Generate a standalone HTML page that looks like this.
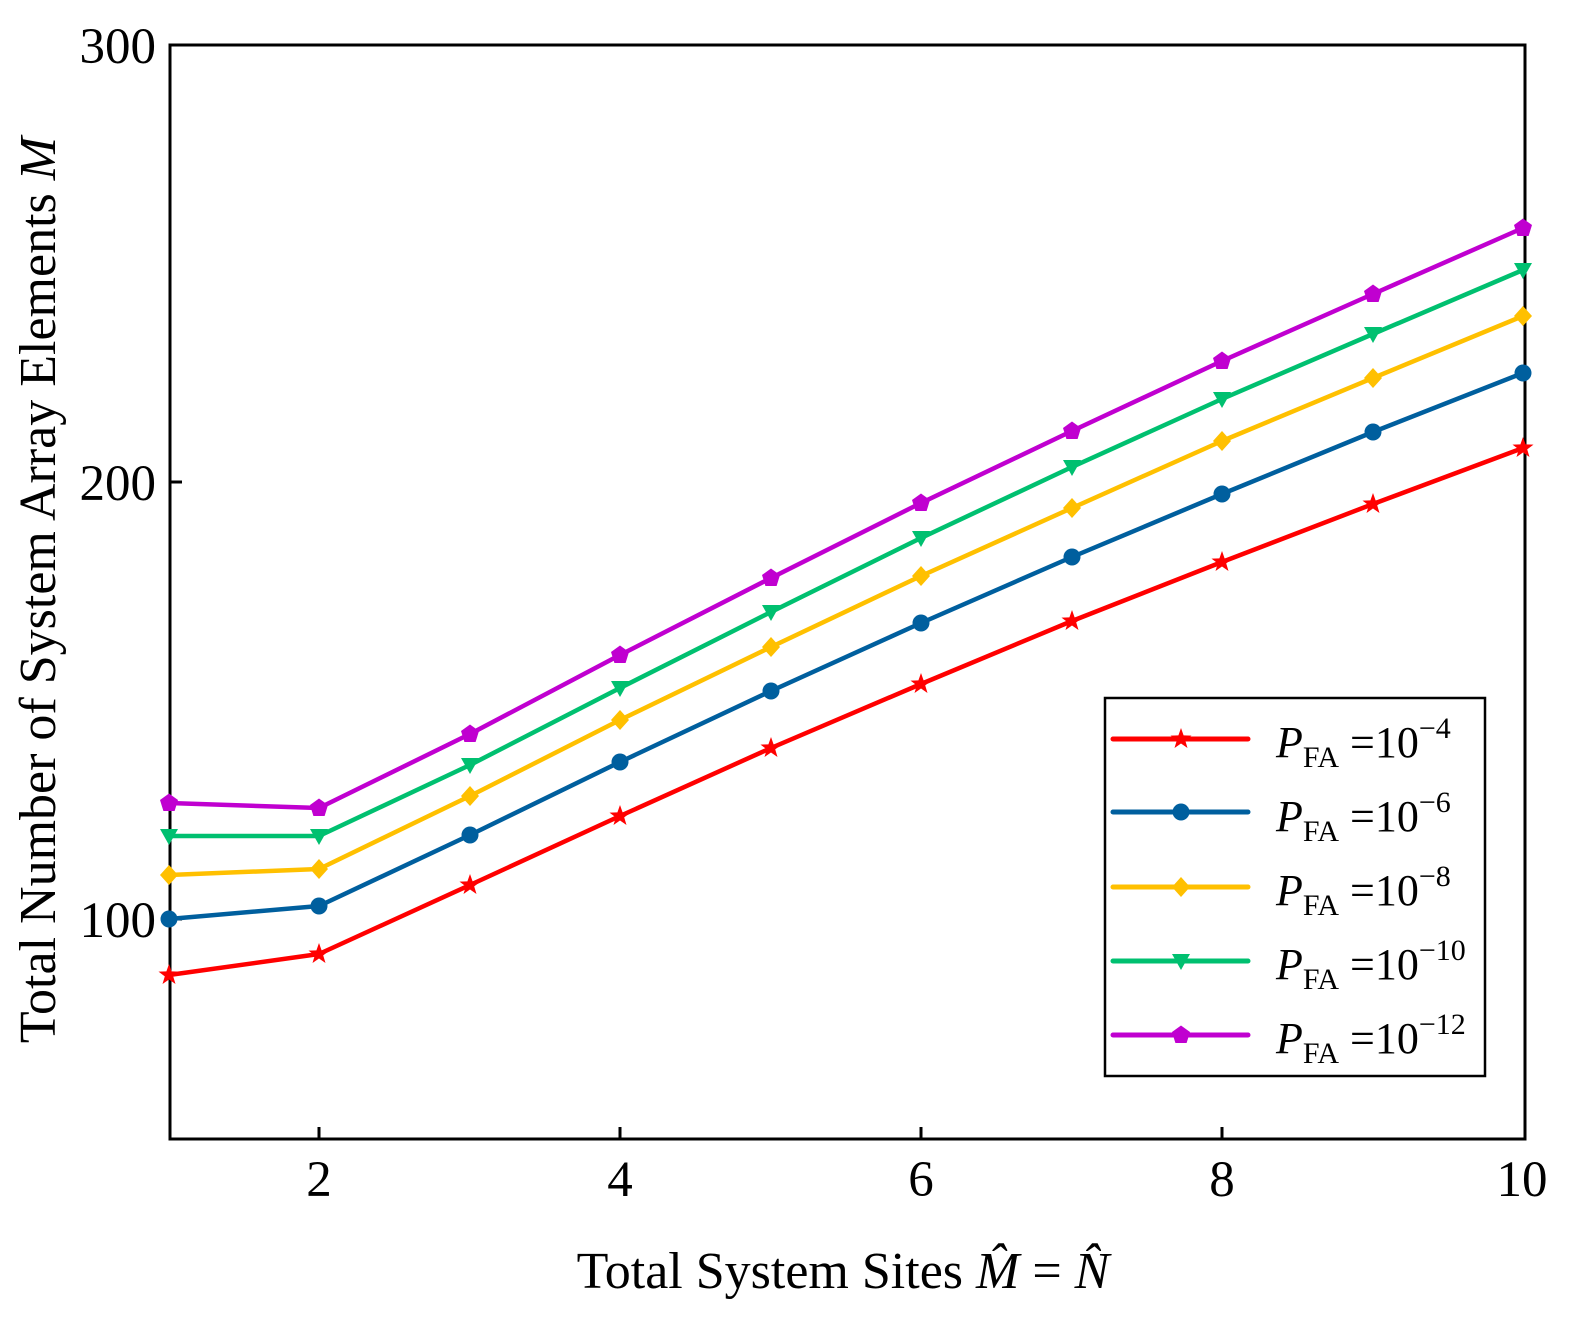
<!DOCTYPE html>
<html><head><meta charset="utf-8"><style>
html,body{margin:0;padding:0;background:#fff;}
svg{display:block;font-family:"Liberation Serif",serif;}
</style></head><body>
<svg width="1572" height="1317" viewBox="0 0 1572 1317" xmlns="http://www.w3.org/2000/svg">
<defs>
<polygon id="star" points="0,-11 2.6,-3.6 10.5,-3.4 4.2,1.4 6.5,9 0,4.5 -6.5,9 -4.2,1.4 -10.5,-3.4 -2.6,-3.6"/>
<circle id="circ" r="8.5"/>
<polygon id="diam" points="0,-10 9,0 0,10 -9,0"/>
<polygon id="tri" points="-9,-7 9,-7 0,9"/>
<polygon id="pent" points="0,-9.5 9,-3 5.6,8 -5.6,8 -9,-3"/>
</defs>
<rect x="170" y="45" width="1355" height="1094" fill="none" stroke="#000" stroke-width="3"/>
<g stroke="#000" stroke-width="3">
<line x1="319" y1="1139" x2="319" y2="1127"/><line x1="620" y1="1139" x2="620" y2="1127"/>
<line x1="921" y1="1139" x2="921" y2="1127"/><line x1="1222" y1="1139" x2="1222" y2="1127"/>
<line x1="170" y1="482" x2="182" y2="482"/><line x1="170" y1="919" x2="182" y2="919"/>
</g>
<g font-size="51" text-anchor="middle" fill="#000">
<text x="319" y="1196">2</text><text x="620" y="1196">4</text><text x="921" y="1196">6</text><text x="1222" y="1196">8</text><text x="1522" y="1196">10</text>
</g>
<g font-size="51" text-anchor="end" fill="#000">
<text x="156" y="63">300</text><text x="156" y="500">200</text><text x="156" y="937">100</text>
</g>
<text x="843" y="1288" font-size="52" text-anchor="middle">Total System Sites <tspan font-style="italic">M̂</tspan> = <tspan font-style="italic">N̂</tspan></text>
<text transform="translate(55,590) rotate(-90)" font-size="52" text-anchor="middle">Total Number of System Array Elements <tspan font-style="italic">M</tspan></text>

<g fill="none" stroke-width="4.5" stroke-linejoin="round">
<polyline stroke="#ff0000" points="169,975 319,954 470,885 620,816 771,748 921,684 1072,621 1222,562 1373,504 1523,448"/>
<polyline stroke="#005f9e" points="169,919 319,906 470,835 620,762 771,691 921,623 1072,557 1222,494 1373,432 1523,373"/>
<polyline stroke="#ffc000" points="169,875 319,869 470,796 620,720 771,647 921,576 1072,508 1222,441 1373,378 1523,316"/>
<polyline stroke="#00c070" points="169,836 319,836 470,765 620,688 771,612 921,538 1072,467 1222,399 1373,334 1523,270"/>
<polyline stroke="#c000d0" points="169,803 319,808 470,734 620,655 771,578 921,503 1072,431 1222,361 1373,294 1523,228"/>
</g>
<g fill="#ff0000">
<use href="#star" x="169" y="975"/><use href="#star" x="319" y="954"/><use href="#star" x="470" y="885"/><use href="#star" x="620" y="816"/><use href="#star" x="771" y="748"/><use href="#star" x="921" y="684"/><use href="#star" x="1072" y="621"/><use href="#star" x="1222" y="562"/><use href="#star" x="1373" y="504"/><use href="#star" x="1523" y="448"/>
</g>
<g fill="#005f9e">
<use href="#circ" x="169" y="919"/><use href="#circ" x="319" y="906"/><use href="#circ" x="470" y="835"/><use href="#circ" x="620" y="762"/><use href="#circ" x="771" y="691"/><use href="#circ" x="921" y="623"/><use href="#circ" x="1072" y="557"/><use href="#circ" x="1222" y="494"/><use href="#circ" x="1373" y="432"/><use href="#circ" x="1523" y="373"/>
</g>
<g fill="#ffc000">
<use href="#diam" x="169" y="875"/><use href="#diam" x="319" y="869"/><use href="#diam" x="470" y="796"/><use href="#diam" x="620" y="720"/><use href="#diam" x="771" y="647"/><use href="#diam" x="921" y="576"/><use href="#diam" x="1072" y="508"/><use href="#diam" x="1222" y="441"/><use href="#diam" x="1373" y="378"/><use href="#diam" x="1523" y="316"/>
</g>
<g fill="#00c070">
<use href="#tri" x="169" y="836"/><use href="#tri" x="319" y="836"/><use href="#tri" x="470" y="765"/><use href="#tri" x="620" y="688"/><use href="#tri" x="771" y="612"/><use href="#tri" x="921" y="538"/><use href="#tri" x="1072" y="467"/><use href="#tri" x="1222" y="399"/><use href="#tri" x="1373" y="334"/><use href="#tri" x="1523" y="270"/>
</g>
<g fill="#c000d0">
<use href="#pent" x="169" y="803"/><use href="#pent" x="319" y="808"/><use href="#pent" x="470" y="734"/><use href="#pent" x="620" y="655"/><use href="#pent" x="771" y="578"/><use href="#pent" x="921" y="503"/><use href="#pent" x="1072" y="431"/><use href="#pent" x="1222" y="361"/><use href="#pent" x="1373" y="294"/><use href="#pent" x="1523" y="228"/>
</g>

<rect x="1105" y="698" width="380" height="378" fill="#fff" stroke="#000" stroke-width="2.5"/>
<g stroke-width="5" stroke-linecap="round">
<line x1="1113" y1="739" x2="1248" y2="739" stroke="#ff0000"/>
<line x1="1113" y1="812" x2="1248" y2="812" stroke="#005f9e"/>
<line x1="1113" y1="887" x2="1248" y2="887" stroke="#ffc000"/>
<line x1="1113" y1="961" x2="1248" y2="961" stroke="#00c070"/>
<line x1="1113" y1="1035" x2="1248" y2="1035" stroke="#c000d0"/>
</g>
<use href="#star" x="1181" y="739" fill="#ff0000"/>
<use href="#circ" x="1181" y="812" fill="#005f9e"/>
<use href="#diam" x="1181" y="887" fill="#ffc000"/>
<use href="#tri" x="1181" y="961" fill="#00c070"/>
<use href="#pent" x="1181" y="1035" fill="#c000d0"/>
<g font-size="44" fill="#000">
<text x="1276" y="757"><tspan font-style="italic">P</tspan><tspan font-size="30" dy="10">FA</tspan><tspan dy="-10"> =10</tspan><tspan font-size="30" dy="-19">−4</tspan></text>
<text x="1276" y="831"><tspan font-style="italic">P</tspan><tspan font-size="30" dy="10">FA</tspan><tspan dy="-10"> =10</tspan><tspan font-size="30" dy="-19">−6</tspan></text>
<text x="1276" y="905"><tspan font-style="italic">P</tspan><tspan font-size="30" dy="10">FA</tspan><tspan dy="-10"> =10</tspan><tspan font-size="30" dy="-19">−8</tspan></text>
<text x="1276" y="979"><tspan font-style="italic">P</tspan><tspan font-size="30" dy="10">FA</tspan><tspan dy="-10"> =10</tspan><tspan font-size="30" dy="-19">−10</tspan></text>
<text x="1276" y="1053"><tspan font-style="italic">P</tspan><tspan font-size="30" dy="10">FA</tspan><tspan dy="-10"> =10</tspan><tspan font-size="30" dy="-19">−12</tspan></text>
</g>
</svg>
</body></html>
